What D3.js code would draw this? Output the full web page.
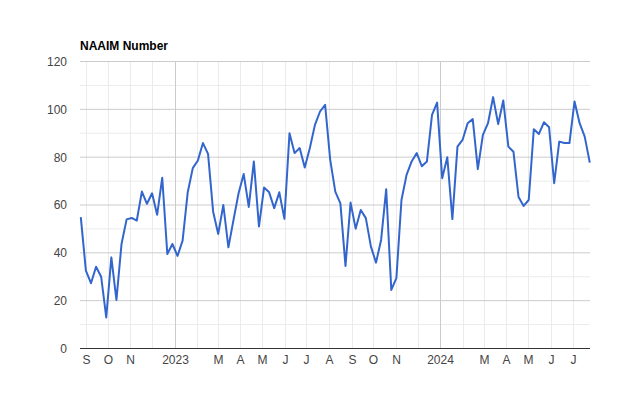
<!doctype html>
<html>
<head>
<meta charset="utf-8">
<style>
  body { margin: 0; background: #fff; }
  #chart { display: block; font-family: Arial, "Liberation Sans", sans-serif; }
</style>
</head>
<body>
<svg id="chart"></svg>
<script src="https://cdn.jsdelivr.net/npm/d3@7"></script>
<script>
// weekly readings (Wednesdays)
var dates = [
  "2022-08-24","2022-08-31","2022-09-07","2022-09-14","2022-09-21","2022-09-28",
  "2022-10-05","2022-10-12","2022-10-19","2022-10-26","2022-11-02","2022-11-09",
  "2022-11-16","2022-11-23","2022-11-30","2022-12-07","2022-12-14","2022-12-21",
  "2022-12-28","2023-01-04","2023-01-11","2023-01-18","2023-01-25","2023-02-01",
  "2023-02-08","2023-02-15","2023-02-22","2023-03-01","2023-03-08","2023-03-15",
  "2023-03-22","2023-03-29","2023-04-05","2023-04-12","2023-04-19","2023-04-26",
  "2023-05-03","2023-05-10","2023-05-17","2023-05-24","2023-05-31","2023-06-07",
  "2023-06-14","2023-06-21","2023-06-28","2023-07-05","2023-07-12","2023-07-19",
  "2023-07-26","2023-08-02","2023-08-09","2023-08-16","2023-08-23","2023-08-30",
  "2023-09-06","2023-09-13","2023-09-20","2023-09-27","2023-10-04","2023-10-11",
  "2023-10-18","2023-10-25","2023-11-01","2023-11-08","2023-11-15","2023-11-22",
  "2023-11-29","2023-12-06","2023-12-13","2023-12-20","2023-12-27","2024-01-03",
  "2024-01-10","2024-01-17","2024-01-24","2024-01-31","2024-02-07","2024-02-14",
  "2024-02-21","2024-02-28","2024-03-06","2024-03-13","2024-03-20","2024-03-27",
  "2024-04-03","2024-04-10","2024-04-17","2024-04-24","2024-05-01","2024-05-08",
  "2024-05-15","2024-05-22","2024-05-29","2024-06-05","2024-06-12","2024-06-19",
  "2024-06-26","2024-07-03","2024-07-10","2024-07-17","2024-07-24"
];
var naaim = [
  54.9, 32.6, 27.3, 34.2, 30.0, 13.0, 38.1, 20.3, 43.7, 54.0,
  54.6, 53.5, 65.6, 60.5, 64.9, 55.9, 71.4, 39.5, 43.7, 38.7,
  45.1, 65.2, 75.4, 78.6, 85.9, 81.4, 57.2, 47.9, 60.0, 42.3,
  53.8, 64.9, 73.0, 59.2, 78.2, 51.0, 67.3, 65.3, 58.7, 65.3,
  54.2, 90.0, 81.7, 83.8, 75.7, 83.8, 93.5, 99.1, 101.9, 78.9,
  65.6, 60.7, 34.5, 61.0, 50.1, 57.9, 54.5, 42.6, 35.9, 45.4,
  66.6, 24.5, 29.4, 62.1, 72.6, 78.2, 81.7, 76.2, 78.2, 97.7,
  102.8, 71.2, 80.0, 54.1, 84.4, 87.2, 94.2, 95.9, 75.0, 89.3,
  94.2, 105.1, 93.8, 103.7, 84.4, 82.3, 63.3, 59.6, 62.1, 91.7,
  89.7, 94.6, 92.5, 69.1, 86.5, 85.9, 85.9, 103.3, 94.2, 88.6,
  77.7
];
var tickMonths = [
  "2022-09-01","2022-10-01","2022-11-01","2022-12-01","2023-01-01","2023-02-01",
  "2023-03-01","2023-04-01","2023-05-01","2023-06-01","2023-07-01","2023-08-01",
  "2023-09-01","2023-10-01","2023-11-01","2023-12-01","2024-01-01","2024-02-01",
  "2024-03-01","2024-04-01","2024-05-01","2024-06-01","2024-07-01"
];
var tickLabels = ["S","O","N","","2023","","M","A","M","J","J","A","S","O","N","","2024","","M","A","M","J","J"];
var yTicks = [0, 20, 40, 60, 80, 100, 120];
var yMinor = [10, 30, 50, 70, 90, 110];

var width = 618, height = 401,
    plotLeft = 80, plotRight = 590, plotTop = 61.5, plotBottom = 348.5;

var parse = d3.utcParse("%Y-%m-%d");
var data = dates.map(function(d, i) { return {date: parse(d), value: naaim[i]}; });
var months = tickMonths.map(parse);

var x = d3.scaleUtc()
    .domain(d3.extent(data, function(d) { return d.date; }))
    .range([80.8, 589.8]);
var y = d3.scaleLinear()
    .domain([0, 120])
    .range([plotBottom, plotTop]);

var svg = d3.select("#chart")
    .attr("width", width)
    .attr("height", height);

svg.append("rect").attr("width", width).attr("height", height).attr("fill", "#fff");

// minor horizontal grid
svg.append("g").selectAll("line")
    .data(yMinor)
    .enter().append("line")
      .attr("x1", plotLeft).attr("x2", plotRight)
      .attr("y1", function(d) { return y(d); })
      .attr("y2", function(d) { return y(d); })
      .attr("stroke", "#ebebeb");

// month gridlines, year boundaries darker
svg.append("g").selectAll("line")
    .data(months)
    .enter().append("line")
      .attr("x1", function(d) { return Math.floor(x(d)) + 0.5; })
      .attr("x2", function(d) { return Math.floor(x(d)) + 0.5; })
      .attr("y1", plotTop).attr("y2", plotBottom)
      .attr("stroke", function(d) { return d.getUTCMonth() === 0 ? "#cccccc" : "#ebebeb"; });

// major horizontal grid
svg.append("g").selectAll("line")
    .data(yTicks.slice(1))
    .enter().append("line")
      .attr("x1", plotLeft).attr("x2", plotRight)
      .attr("y1", function(d) { return y(d); })
      .attr("y2", function(d) { return y(d); })
      .attr("stroke", "#cccccc");

// y axis labels
var yAxis = d3.axisLeft(y).tickValues(yTicks).tickSize(0).tickPadding(13);
var gy = svg.append("g")
    .attr("transform", "translate(" + plotLeft + ",0)")
    .call(yAxis);
gy.select(".domain").remove();
gy.selectAll("text")
    .attr("font-family", "Arial, 'Liberation Sans', sans-serif")
    .attr("font-size", 12)
    .attr("fill", "#444");

// x axis labels
var xAxis = d3.axisBottom(x)
    .tickValues(months)
    .tickFormat(function(d, i) { return tickLabels[i]; })
    .tickSize(0)
    .tickPadding(7);
var gx = svg.append("g")
    .attr("transform", "translate(0," + plotBottom + ")")
    .call(xAxis);
gx.select(".domain").remove();
gx.selectAll(".tick")
    .attr("transform", function(d) { return "translate(" + (Math.floor(x(d)) + 0.5) + ",0)"; });
gx.selectAll("text")
    .attr("font-family", "Arial, 'Liberation Sans', sans-serif")
    .attr("font-size", 12)
    .attr("fill", "#444");

// baseline at zero
svg.append("line")
    .attr("x1", plotLeft).attr("x2", plotRight)
    .attr("y1", y(0)).attr("y2", y(0))
    .attr("stroke", "#333");

var line = d3.line()
    .x(function(d) { return x(d.date); })
    .y(function(d) { return y(d.value); });

svg.append("path")
    .datum(data)
    .attr("d", line)
    .attr("fill", "none")
    .attr("stroke", "#3366cc")
    .attr("stroke-width", 2)
    .attr("stroke-linejoin", "round");

svg.append("text")
    .attr("x", plotLeft)
    .attr("y", 49.5)
    .attr("font-family", "Arial, 'Liberation Sans', sans-serif")
    .attr("font-size", 12)
    .attr("font-weight", "bold")
    .attr("fill", "#000")
    .text("NAAIM Number");
</script>
</body>
</html>
